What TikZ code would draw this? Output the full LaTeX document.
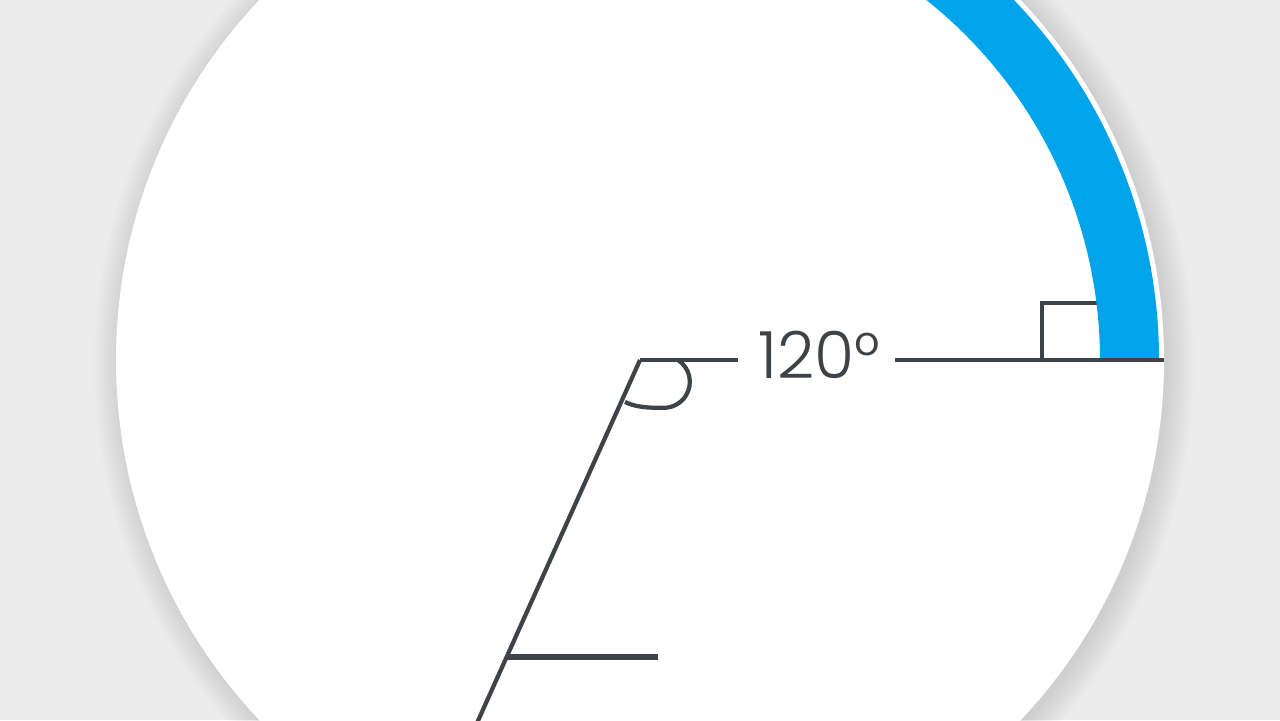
\documentclass[tikz,border=0pt]{standalone}
\usepackage{fontspec}
\setmainfont{Poppins}[UprightFont=* Light]
\usepackage{tikz}

\definecolor{ink}{HTML}{3E4349}
\definecolor{arcblue}{HTML}{00A4EA}
\definecolor{paper}{HTML}{EBEBEB}

\begin{document}
\begin{tikzpicture}[x=0.01cm,y=0.01cm,
    stroke/.style={draw=ink,line width=1.2pt},
    lbl/.style={text=ink,inner sep=0pt,font=\fontsize{18.5}{20}\selectfont}]
    \useasboundingbox (0,0) rectangle (1280,720);
    \clip (0,0) rectangle (1280,720);
    \fill[paper] (0,0) rectangle (1280,720);

    % soft shadow and disc
    \foreach \k in {1,...,14}
        \fill[black,opacity=0.007] (644,356) circle[radius=522+2*\k];
    \fill[white] (640,360) circle[radius=524];

    \coordinate (o) at (640,360);
    \coordinate (h1) at (738,360);
    \coordinate (h2) at (895,360);
    \coordinate (hend) at (1164,360);
    \coordinate (send) at (446,-72);
    \coordinate (b1) at (506,63);
    \coordinate (b2) at (658,63);
    \coordinate (m1) at (678,360);
    \coordinate (m2) at (625,318);
    \node[lbl,anchor=base] (ang) at (819,342) {120°};

    % right angle box, under the blue band
    \draw[stroke] (1098,417) -- (1042,417) -- (1042,360);
    \draw[arcblue,line width=0.59cm] (1129.5,360) arc[start angle=0,end angle=100,radius=489.5];

    \draw[stroke] (o) -- (h1);
    \draw[stroke] (h2) -- (hend);
    \draw[stroke] (o) -- (send);
    \draw[stroke,line width=1.6pt] (b1) -- (b2);
    \draw[stroke] (m1) arc[start angle=57,end angle=-90,radius=26]
        .. controls (648,312) and (635,313) .. (m2);
\end{tikzpicture}
\end{document}
